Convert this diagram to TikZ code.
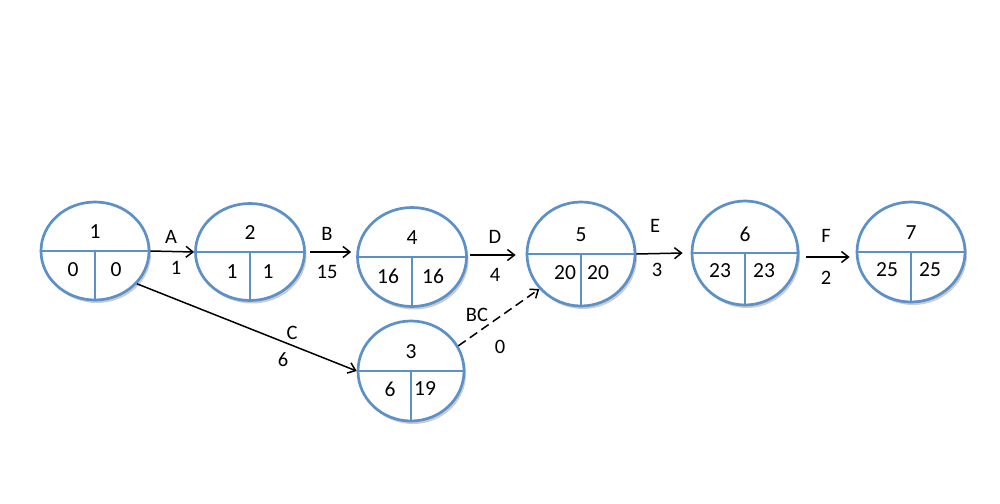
\documentclass[tikz,border=0pt]{standalone}
\usepackage{fontspec}
\setmainfont{Carlito}
\usetikzlibrary{shapes.geometric,arrows.meta,shadows,calc}
\definecolor{evblue}{RGB}{92,144,200}
\tikzset{
  event/.style={ellipse, draw=evblue, line width=2.7pt, fill=white, inner sep=0pt,
    minimum width=108pt, minimum height=100pt,
    drop shadow={shadow xshift=2pt, shadow yshift=-3pt, opacity=0.2, fill=black}},
  divider/.style={draw=evblue, line width=2.6pt},
  num/.style={font=\fontsize{21.5}{24}\selectfont, inner sep=0pt, anchor=center},
  act/.style={-{Straight Barb[length=7pt,width=11pt]}, line width=1.5pt, black},
  lbl/.style={font=\fontsize{20.5}{24}\selectfont, inner sep=0pt, anchor=center},
}
\newcommand{\evnode}[6]{%
  \node[event, minimum width=#4pt, minimum height=#5pt] (#1) at (#2,#3) {};
  \draw[divider] (#1.west) -- (#1.east);
  \draw[divider] (#1.center) -- (#1.south);
  \node[num] (#1-t) at ($(#1.center)+(0,-19)$) {#6};
}
\begin{document}
\begin{tikzpicture}[x=1pt,y=-1pt]
\useasboundingbox (0,0) rectangle (1000,503);
\fill[white] (0,0) rectangle (1000,503);

\evnode{n1}{95}{251}{108}{98}{1}
\node[num] (n1-l) at (73,270) {0};
\node[num] (n1-r) at (116,270) {0};

\evnode{n2}{250}{252}{109}{97}{2}
\node[num] (n2-l) at (232,272) {1};
\node[num] (n2-r) at (268,272) {1};

\evnode{n4}{412}{257}{109}{99}{4}
\node[num] (n4-l) at (388,276) {16};
\node[num] (n4-r) at (433,276) {16};

\evnode{n5}{581}{254}{108}{104}{5}
\node[num] (n5-l) at (565,273) {20};
\node[num] (n5-r) at (598,273) {20};

\evnode{n3}{411}{371}{106}{100}{3}
\node[num] (n3-l) at (390,389) {6};
\node[num] (n3-r) at (425,389) {19};

\evnode{n6}{745}{253}{106}{104}{6}
\node[num] (n6-l) at (720,271) {23};
\node[num] (n6-r) at (764,271) {23};

\evnode{n7}{911}{252}{108}{100}{7}
\node[num] (n7-l) at (887,270) {25};
\node[num] (n7-r) at (930,270) {25};

% activities
\draw[act] (n1.east) -- (n2.west);
\node[lbl] (lA) at (171,237) {A};
\node[lbl] (lA2) at (176,268) {1};

\draw[act] ([xshift=4pt]n2.east) -- ([xshift=-5pt]n4.west |- n2.east);
\node[lbl] (lB) at (327,234) {B};
\node[lbl] (lB2) at (327,272) {15};

\draw[act] ([xshift=2pt]n4.east |- 0,255) -- ([xshift=-10pt]n5.west |- 0,255);
\node[lbl] (lD) at (495,237) {D};
\node[lbl] (lD2) at (495,275) {4};

\draw[act] (n5.east) -- ([xshift=-8pt]n6.west);
\node[lbl] (lE) at (655,226) {E};
\node[lbl] (lE2) at (657,270) {3};

\draw[act] ([xshift=7pt]n6.east |- 0,257) -- ([xshift=-6pt]n7.west |- 0,257);
\node[lbl] (lF) at (826,236) {F};
\node[lbl] (lF2) at (826,278) {2};

\draw[act] (n1.-38) -- (n3.west);
\node[lbl] (lC) at (292,333) {C};
\node[lbl] (lC2) at (283,360) {6};

\draw[act, dash pattern=on 9pt off 5pt] (n3.28) -- (n5.-140);
\node[lbl] (lBC) at (477,315) {BC};
\node[lbl] (lBC2) at (500,347) {0};
\end{tikzpicture}
\end{document}
